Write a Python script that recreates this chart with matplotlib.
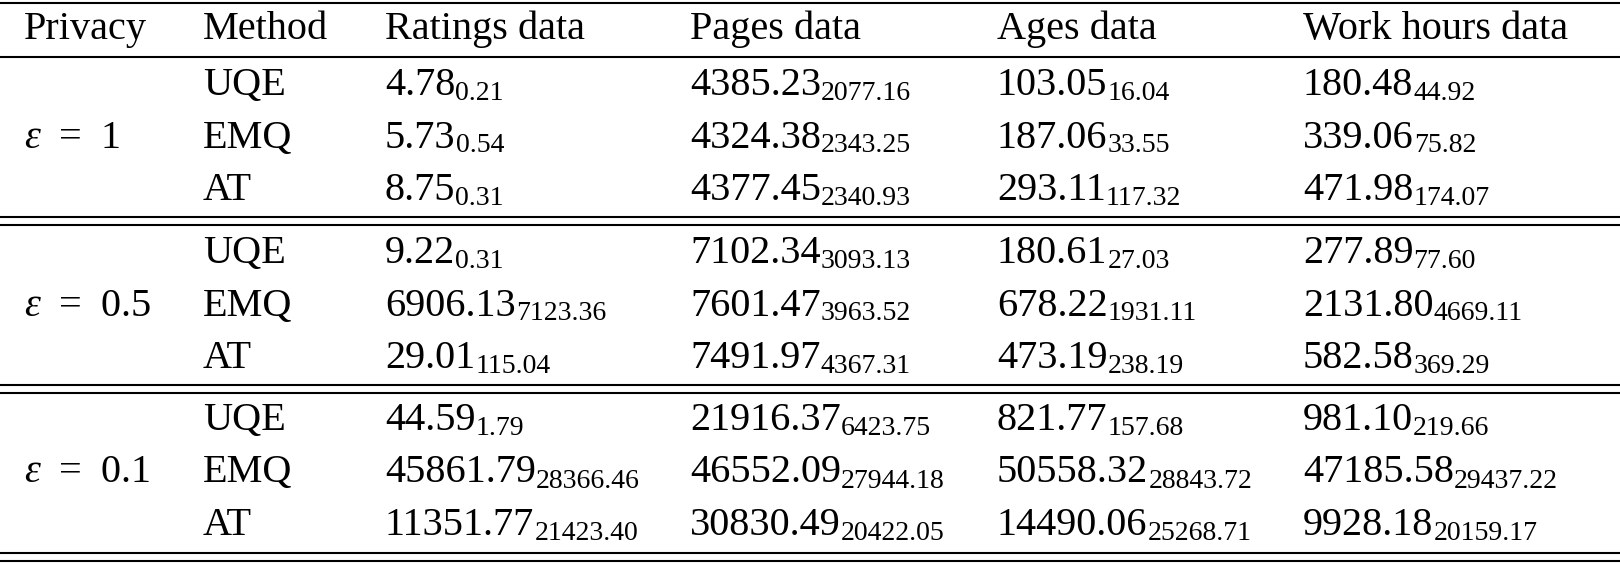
import matplotlib
matplotlib.use("Agg")
import matplotlib.pyplot as plt

plt.rcParams['font.family'] = ['Liberation Serif', 'DejaVu Serif']
plt.rcParams['mathtext.fontset'] = 'custom'
plt.rcParams['mathtext.rm'] = 'Liberation Serif'
plt.rcParams['mathtext.it'] = 'Liberation Serif:italic'

# --- table contents ---
headers = ['Privacy', 'Method', 'Ratings data', 'Pages data', 'Ages data', 'Work hours data']
privacy_levels = ['1', '0.5', '0.1']
methods = ['UQE', 'EMQ', 'AT']

means_eps1 = [[4.78, 4385.23, 103.05, 180.48],
              [5.73, 4324.38, 187.06, 339.06],
              [8.75, 4377.45, 293.11, 471.98]]
std_eps1 = [[0.21, 2077.16, 16.04, 44.92],
            [0.54, 2343.25, 33.55, 75.82],
            [0.31, 2340.93, 117.32, 174.07]]

means_eps05 = [[9.22, 7102.34, 180.61, 277.89],
               [6906.13, 7601.47, 678.22, 2131.80],
               [29.01, 7491.97, 473.19, 582.58]]
std_eps05 = [[0.31, 3093.13, 27.03, 77.60],
             [7123.36, 3963.52, 1931.11, 4669.11],
             [115.04, 4367.31, 238.19, 369.29]]

means_eps01 = [[44.59, 21916.37, 821.77, 981.10],
               [45861.79, 46552.09, 50558.32, 47185.58],
               [11351.77, 30830.49, 14490.06, 9928.18]]
std_eps01 = [[1.79, 6423.75, 157.68, 219.66],
             [28366.46, 27944.18, 28843.72, 29437.22],
             [21423.40, 20422.05, 25268.71, 20159.17]]

blocks = [(means_eps1, std_eps1), (means_eps05, std_eps05), (means_eps01, std_eps01)]

# --- layout (pixel coords, y down) ---
W, H = 1620, 564
col_x = [24, 203, 385, 690, 997, 1303]
header_y = 39
block_y0 = [95, 263, 430]
row_step = 52.5
main_size = 29
sub_size = 20
sub_drop = 5
lw = 1.5

fig = plt.figure(figsize=(W / 100, H / 100), dpi=100)
ax = fig.add_axes([0, 0, 1, 1])
ax.set_xlim(0, W)
ax.set_ylim(H, 0)
ax.axis('off')
renderer = fig.canvas.get_renderer()


def hline(y):
    ax.plot([0, W], [y, y], color='black', lw=lw, solid_capstyle='butt')


def value_cell(x, y, mean, std):
    t = ax.text(x, y, f"{mean:.2f}", fontsize=main_size, va='baseline', ha='left')
    bb = t.get_window_extent(renderer)
    x_end = ax.transData.inverted().transform((bb.x1, bb.y0))[0]
    ax.text(x_end, y + sub_drop, f"{std:.2f}", fontsize=sub_size,
            va='baseline', ha='left')


# header
for x, h in zip(col_x, headers):
    ax.text(x, header_y, h, fontsize=main_size, va='baseline', ha='left')

hline(3)
hline(57)

for b, (means, stds) in enumerate(blocks):
    y0 = block_y0[b]
    for r, m in enumerate(methods):
        y = y0 + r * row_step
        ax.text(col_x[1], y, m, fontsize=main_size, va='baseline', ha='left')
        for c in range(4):
            value_cell(col_x[c + 2], y, means[r][c], stds[r][c])
    ax.text(col_x[0], y0 + row_step,
            r'$\varepsilon\;\,=\;\,' + privacy_levels[b] + '$',
            fontsize=main_size, va='baseline', ha='left')
    y_rule = 217 + b * 168
    hline(y_rule)
    hline(y_rule + 8)

fig.savefig('out.png', dpi=100, facecolor='white')
